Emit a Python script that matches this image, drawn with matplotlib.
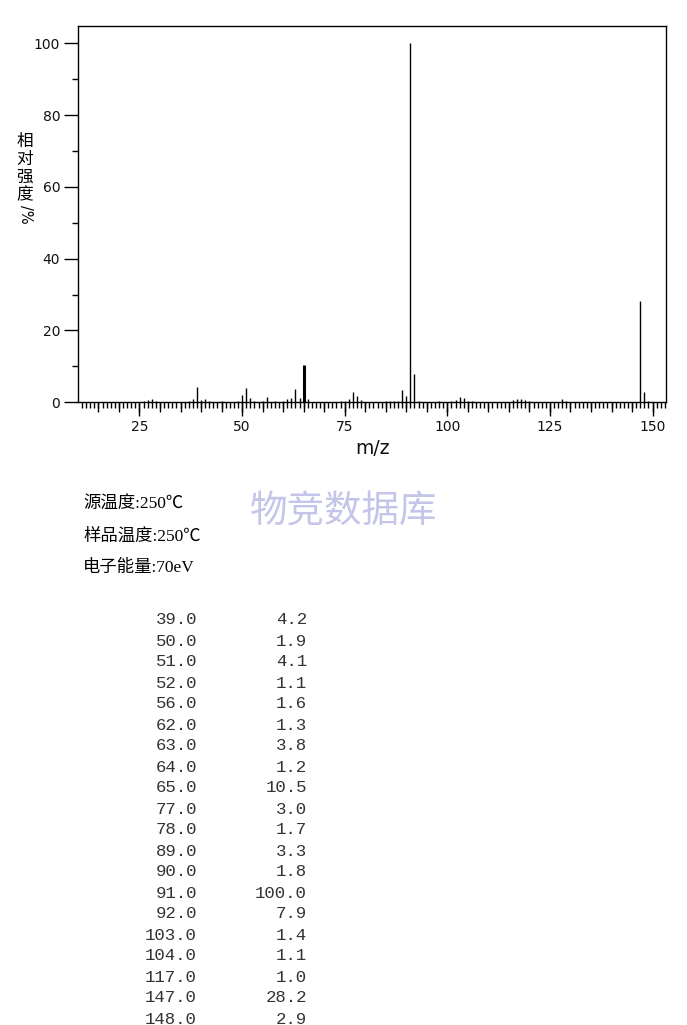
import numpy as np
import matplotlib
matplotlib.use('Agg')
import matplotlib.pyplot as plt
from matplotlib.ticker import MultipleLocator

# main peaks (listed in the table)
mz = [39, 50, 51, 52, 56, 62, 63, 64, 65, 77, 78, 89, 90, 91, 92, 103, 104, 117, 147, 148]
intensity = [4.2, 1.9, 4.1, 1.1, 1.6, 1.3, 3.8, 1.2, 10.5, 3.0, 1.7, 3.3, 1.8, 100.0, 7.9,
             1.4, 1.1, 1.0, 28.2, 2.9]

# small peaks (below 1 %)
minor_mz = [26, 27, 28, 29, 37, 38, 40, 41, 42, 45, 49, 53, 55, 58, 60, 61, 66, 74, 75, 76,
            79, 85, 86, 87, 88, 93, 98, 101, 102, 105, 106, 116, 118, 119, 120, 128, 129, 149]
minor_int = [0.5, 0.6, 0.9, 0.5, 0.4, 0.9, 0.6, 0.9, 0.4, 0.3, 0.5, 0.5, 0.4, 0.3, 0.3, 0.9,
             0.9, 0.4, 0.5, 0.9, 0.6, 0.3, 0.4, 0.4, 0.5, 0.3, 0.3, 0.4, 0.6, 0.5, 0.3, 0.6,
             0.9, 0.6, 0.3, 0.9, 0.4, 0.4]

info_lines = ['源温度:250℃', '样品温度:250℃', '电子能量:70eV']

W, H = 687, 1025
fig = plt.figure(figsize=(W / 100, H / 100), dpi=100)

ax = fig.add_axes([78.3 / W, 1 - 402.3 / H, (665.7 - 78.3) / W, (402.3 - 26) / H])
ax.set_xlim(10.1, 153.2)
ax.set_ylim(0, 104.8)

ax.vlines(minor_mz, 0, minor_int, color='black', linewidth=1)
widths = [2.2 if m == 65 else 1 for m in mz]
ax.vlines(mz, 0, intensity, color='black', linewidth=widths)

for s in ax.spines.values():
    s.set_linewidth(1)

ax.xaxis.set_major_locator(MultipleLocator(25))
ax.xaxis.set_minor_locator(MultipleLocator(1))
ax.yaxis.set_major_locator(MultipleLocator(20))
ax.yaxis.set_minor_locator(MultipleLocator(10))
ax.tick_params(which='major', direction='out', length=10, width=1, labelsize=10, pad=3,
               labelcolor='#111111')
ax.tick_params(which='minor', direction='out', length=4.5, width=1)

# medium ticks every 5
sec = ax.secondary_xaxis('bottom')
sec.set_xticks(np.arange(15, 155, 5))
sec.set_xticklabels([])
sec.tick_params(direction='out', length=7, width=1)
sec.spines['bottom'].set_visible(False)

ax.set_xlabel('m/z', fontsize=13.5, labelpad=3, color='#111111')

# vertical y label
ylab = ['相', '对', '强', '度']
for i, ch in enumerate(ylab):
    fig.text(25 / W, 1 - (141 + 18 * i) / H, ch, fontsize=12, ha='center', va='center',
             family=['Noto Sans CJK SC', 'DejaVu Sans'])
fig.text(25 / W, 1 - 214 / H, '/%', fontsize=10.5, ha='center', va='center', rotation=-90,
         family=['DejaVu Sans'])

# conditions
for i, line in enumerate(info_lines):
    fig.text(83 / W, 1 - (505 + 31.5 * i) / H, line, fontsize=12.5, ha='left', va='center',
             family=['Liberation Serif', 'Noto Sans CJK SC'])

# watermark
fig.text(343.5 / W, 1 - 512 / H, '物竞数据库', fontsize=27, ha='center', va='center',
         color='#c5c5ea', family=['Noto Sans CJK SC'])

# peak table
for i, (m, v) in enumerate(zip(mz, intensity)):
    y = 1 - (620 + 21 * i) / H
    fig.text(197 / W, y, f'{m:.1f}', fontsize=12.5, ha='right', va='center',
             family='Liberation Mono', color='#333333')
    fig.text(307 / W, y, f'{v:.1f}', fontsize=12.5, ha='right', va='center',
             family='Liberation Mono', color='#333333')

fig.savefig('out.png', dpi=100)
